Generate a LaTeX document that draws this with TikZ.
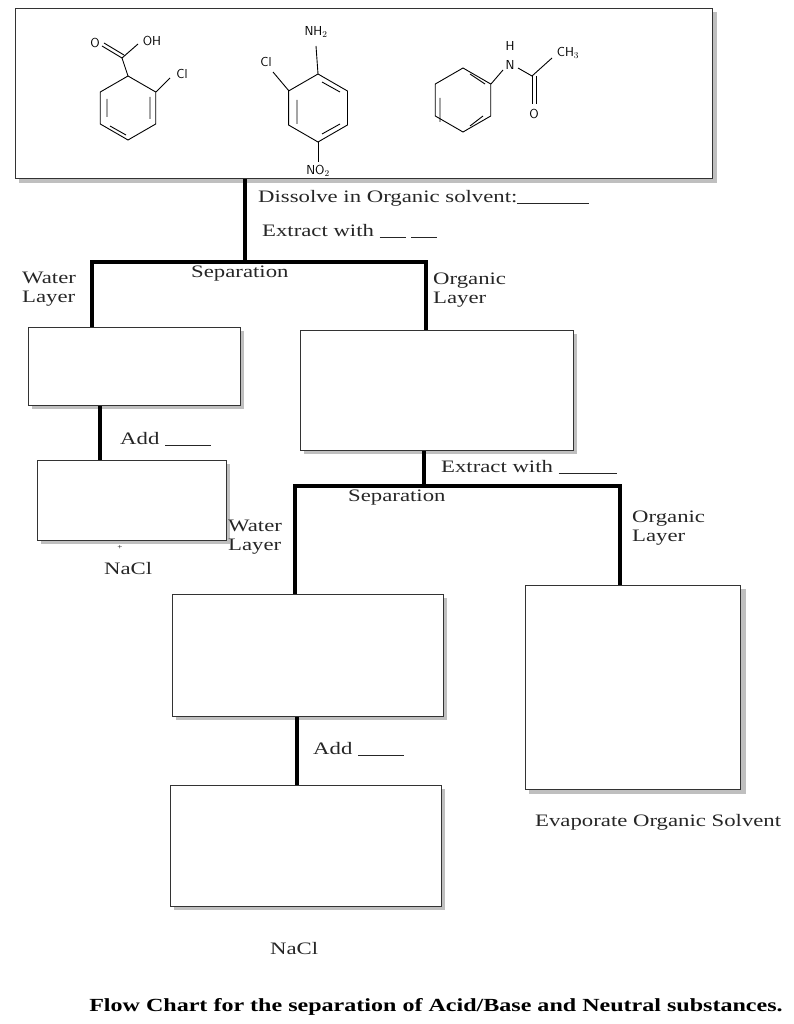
\documentclass[tikz,border=0pt]{standalone}
\usepackage{fontspec}
\setmainfont[FakeStretch=1.3]{Liberation Serif}
\begin{document}
\begin{tikzpicture}[x=1pt,y=-1pt,
  box/.style={draw=black!80,line width=1.2pt,fill=white},
  shad/.style={fill=black!25},
  conn/.style={line width=4.5pt},
  lab/.style={anchor=west,font=\fontsize{17.5}{19}\selectfont,inner sep=0pt,align=left,text=black!85},
  chem/.style={font=\sffamily\fontsize{13}{14}\selectfont,inner sep=1pt},
  bond/.style={line width=0.9pt}]
\useasboundingbox (0,0) rectangle (794,1024);
% top box
\fill[shad] (19,12) rectangle (717,183);
\node[box,minimum width=697pt,minimum height=170pt,anchor=north west] (top) at (15,8) {};
% molecule 1
\draw[bond] (128,108)++(90:32) -- ++(-30:32) -- ++(-90:32) -- ++(-150:32) -- ++(150:32) -- ++(90:32) -- cycle;
\draw[bond] (128,76) -- (122,58);
\draw[bond] (122,58) -- (102,46);
\draw[bond] (124,55) -- (104,43);
\draw[bond] (122,58) -- (138,44);
\draw[bond] (156,92) -- (170,78);
\draw[bond] (107,99) -- (107,117) (110,126) -- (126,135) (150,97) -- (150,119);
\node[chem] (o1) at (95,43) {O};
\node[chem] (oh1) at (152,41) {OH};
\node[chem] (cl1) at (182,74) {Cl};
% molecule 2
\draw[bond] (318,108)++(90:34) -- ++(-30:34) -- ++(-90:34) -- ++(-150:34) -- ++(150:34) -- ++(90:34) -- cycle;
\draw[bond] (318,74) -- (316,46);
\draw[bond] (289,91) -- (273,72);
\draw[bond] (318,142) -- (318,162);
\draw[bond] (297,100) -- (297,124) (322,82) -- (340,92) (322,134) -- (340,124);
\node[chem] (nh2) at (316,32) {NH$_2$};
\node[chem] (cl2) at (266,62) {Cl};
\node[chem] (no2) at (318,171) {NO$_2$};
% molecule 3
\draw[bond] (463,100)++(90:32) -- ++(-30:32) -- ++(-90:32) -- ++(-150:32) -- ++(150:32) -- ++(90:32) -- cycle;
\draw[bond] (491,84) -- (503,70);
\draw[bond] (518,68) -- (532,76) -- (552,58);
\draw[bond] (532,76) -- (532,104) (536,76) -- (536,104);
\draw[bond] (440,98) -- (440,122) (470,74) -- (485,84) (470,126) -- (483,116);
\node[chem] (n3) at (510,65) {N};
\node[chem] (h3) at (510,46) {H};
\node[chem] (ch3) at (568,53) {CH$_3$};
\node[chem] (o3) at (534,114) {O};
% boxes
\fill[shad] (32,331) rectangle (244,409);
\node[box,minimum width=212pt,minimum height=78pt,anchor=north west] (A) at (28,327) {};
\fill[shad] (304,334) rectangle (577,454);
\node[box,minimum width=273pt,minimum height=120pt,anchor=north west] (B) at (300,330) {};
\fill[shad] (41,464) rectangle (230,544);
\node[box,minimum width=189pt,minimum height=80pt,anchor=north west] (C) at (37,460) {};
\fill[shad] (176,598) rectangle (447,720);
\node[box,minimum width=271pt,minimum height=122pt,anchor=north west] (D) at (172,594) {};
\fill[shad] (529,589) rectangle (746,794);
\node[box,minimum width=215pt,minimum height=204pt,anchor=north west] (E) at (525,585) {};
\fill[shad] (174,789) rectangle (445,910);
\node[box,minimum width=271pt,minimum height=121pt,anchor=north west] (F) at (170,785) {};
% connectors
\coordinate (j1) at (245,262);
\draw[conn] (top.south -| j1) -- (j1);
\draw[conn] (92,262) -- (428,262);
\draw[conn] (92,260) -- (A.north -| 92,0);
\draw[conn] (426,260) -- (B.north -| 426,0);
\draw[conn] (A.south -| 100,0) -- (C.north -| 100,0);
\draw[conn] (B.south -| 424,0) -- (424,486);
\draw[conn] (293,486) -- (622,486);
\draw[conn] (295,484) -- (D.north -| 295,0);
\draw[conn] (620,484) -- (E.north -| 620,0);
\draw[conn] (D.south -| 297,0) -- (F.north -| 297,0);
% labels
\node[lab] at (258,198) {Dissolve in Organic solvent:\rule[-1pt]{72pt}{0.5pt}};
\node[lab] at (262,231) {Extract with \rule[-1pt]{26pt}{0.5pt}\ \rule[-1pt]{26pt}{0.5pt}};
\node[lab] at (191,274) {Separation};
\node[lab,anchor=north west] at (22,272) {Water\\Layer};
\node[lab,anchor=north west] at (433,273) {Organic\\Layer};
\node[lab] at (120,439) {Add \rule[-1pt]{46pt}{0.5pt}};
\node[lab] at (441,467) {Extract with \rule[-1pt]{58pt}{0.5pt}};
\node[lab] at (348,498) {Separation};
\node[lab,anchor=north west] at (228,520) {Water\\Layer};
\node[lab,anchor=north west] at (632,511) {Organic\\Layer};
\node[font=\fontsize{7}{8}\selectfont] at (120,548) {+};
\node[lab] at (104,569) {NaCl};
\node[lab] at (313,749) {Add \rule[-1pt]{46pt}{0.5pt}};
\node[lab] at (535,822) {Evaporate Organic Solvent};
\node[lab] at (270,949) {NaCl};
\node[font=\bfseries\fontsize{18.5}{20}\selectfont] at (436,1007) {Flow Chart for the separation of Acid/Base and Neutral substances.};
\end{tikzpicture}
\end{document}
